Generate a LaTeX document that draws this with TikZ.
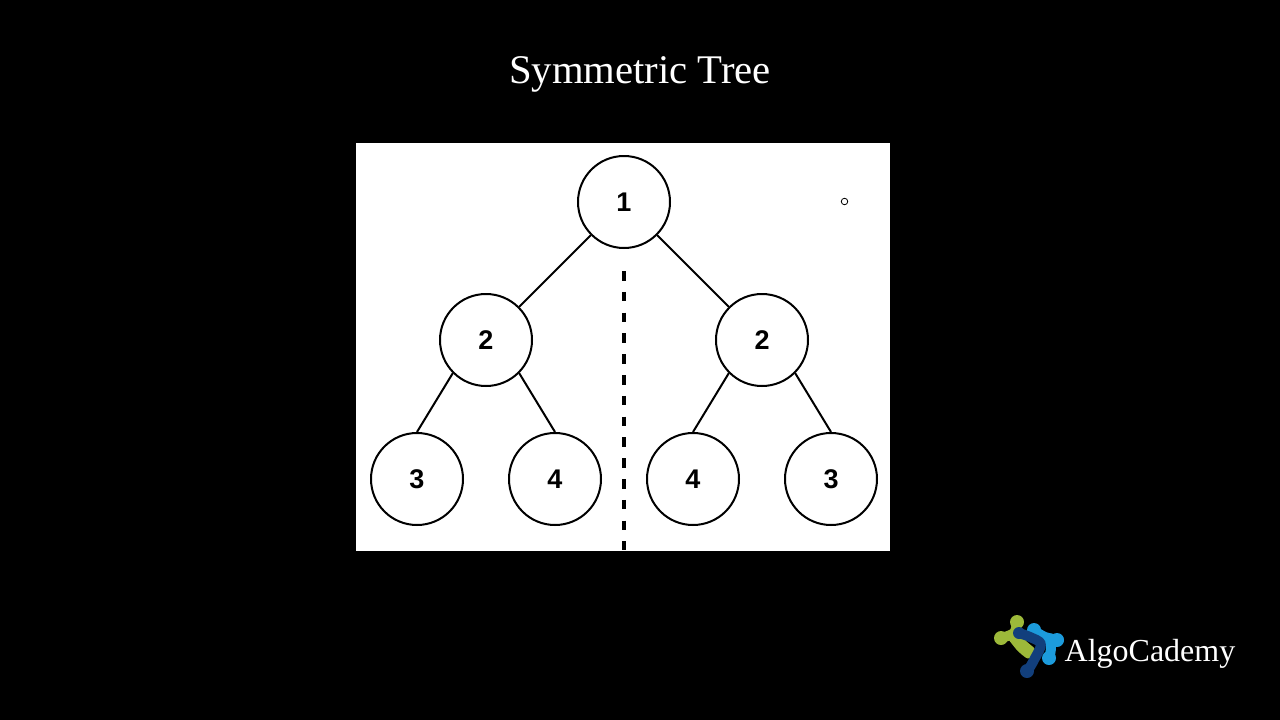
\documentclass[tikz,border=0pt]{standalone}
\usepackage{fontspec}
\setmainfont{Liberation Serif}
\newfontfamily\digitfont{Liberation Sans}
\usetikzlibrary{positioning}
\definecolor{logogreen}{HTML}{9DB93A}
\definecolor{logonavy}{HTML}{123F7C}
\definecolor{logoblue}{HTML}{1C9BDC}
\tikzstyle{TreeNode} = [circle, draw, line width=2pt, fill=white, minimum size=92pt, inner sep=0pt, font=\digitfont\bfseries\fontsize{27}{27}\selectfont]
\tikzstyle{Edge} = [line width=2pt]
\tikzstyle{Blob} = [line width=10pt, line cap=round, line join=round]

\begin{document}
\begin{tikzpicture}
    [x=1pt, y=-1pt, on grid]

    \useasboundingbox [fill=black] (0,0) rectangle (1280,720);
    \node [font=\fontsize{40.7}{40.7}\selectfont, text=white] (title) at (640,74) {Symmetric Tree};
    \node [fill=white, minimum width=534pt, minimum height=408pt, inner sep=0pt] (panel) at (623,347) {};

    %% Axis
    \coordinate (axistop) at (624,271);
    \coordinate (axisbottom) at (624,550);
    \draw [line width=3.4pt, dash pattern=on 9.5pt off 11.3pt] (axistop) -- (axisbottom);

    %% Tree
    \node [TreeNode] (root) at (624,202) {1};
    \node [TreeNode, below left=138pt and 138pt of root] (leftchild) {2};
    \node [TreeNode, below right=138pt and 138pt of root] (rightchild) {2};
    \node [TreeNode, below left=139pt and 69pt of leftchild] (leftouter) {3};
    \node [TreeNode, below right=139pt and 69pt of leftchild] (leftinner) {4};
    \node [TreeNode, below left=139pt and 69pt of rightchild] (rightinner) {4};
    \node [TreeNode, below right=139pt and 69pt of rightchild] (rightouter) {3};

    %% Draw
    \draw [Edge] (root) -- (leftchild);
    \draw [Edge] (root) -- (rightchild);
    \draw [Edge] (leftchild.south west) -- (leftouter.north);
    \draw [Edge] (leftchild.south east) -- (leftinner.north);
    \draw [Edge] (rightchild.south west) -- (rightinner.north);
    \draw [Edge] (rightchild.south east) -- (rightouter.north);

    %% Pointer
    \node [circle, draw, line width=0.8pt, fill=white, minimum size=6.5pt, inner sep=0pt] (pointer) at (844.5,201.5) {};

    %% Logo
    \draw [Blob, logogreen] plot [smooth] coordinates {(1017,622) (1014,633) (1001,638)};
    \draw [Blob, logogreen, line width=13pt] plot [smooth] coordinates {(1014,636) (1022,646) (1029,652)};
    \fill [logogreen] (1017,622) circle (7pt) (1001,638) circle (7pt);
    \draw [Blob, logoblue] plot [smooth] coordinates {(1033,630) (1045,637) (1059,640)};
    \draw [Blob, logoblue] plot [smooth] coordinates {(1049,638) (1051,648) (1049,659)};
    \fill [logoblue] (1034,630) circle (7pt) (1057,640) circle (7pt) (1049,658) circle (7pt);
    \draw [Blob, logonavy] plot [smooth] coordinates {(1019,633) (1030,637) (1041,644) (1034,660) (1027,672)};
    \fill [logonavy] (1019,633) circle (6pt) (1027,671) circle (7pt);
    \node [font=\fontsize{32}{32}\selectfont, text=white, inner sep=0pt] (brand) at (1150,654) {AlgoCademy};

\end{tikzpicture}
\end{document}
